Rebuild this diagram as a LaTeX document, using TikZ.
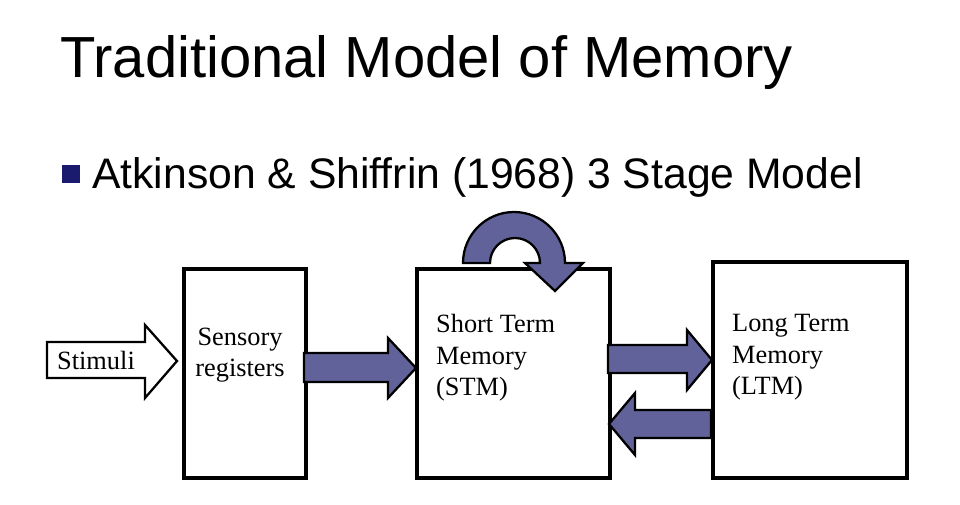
\documentclass[tikz,border=0pt]{standalone}
\usepackage{fontspec}
\setmainfont{Liberation Serif}
\newfontfamily\slidefont{Liberation Sans}
\usetikzlibrary{positioning}
\definecolor{arrowfill}{HTML}{62629A}
\definecolor{bulletblue}{HTML}{1A1A6E}
\tikzset{
  stage/.style={draw,line width=2pt,anchor=north west,inner sep=0pt},
  label/.style={font=\fontsize{15}{18}\selectfont,align=left},
  fat/.style={draw,line width=1.3pt,fill=arrowfill,line join=miter}
}
\begin{document}
\begin{tikzpicture}[x=0.02cm,y=-0.02cm]
  \useasboundingbox (0,0) rectangle (960,504);
  \node[anchor=base west,font=\slidefont\fontsize{33}{38}\selectfont] (Title) at (54,77) {Traditional Model of Memory};
  \node[fill=bulletblue,minimum size=10pt,inner sep=0pt] (Bullet) at (71,174) {};
  \node[anchor=base west,font=\slidefont\fontsize{24.3}{29}\selectfont] (Sub) at (86,188) {Atkinson \& Shiffrin (1968) 3 Stage Model};
  % the three stages
  \node[stage,minimum width=122*0.02cm,minimum height=209*0.02cm] (Sens) at (182,267) {};
  \node[stage,minimum width=193*0.02cm,minimum height=209*0.02cm] (STM) at (415,267) {};
  \node[stage,minimum width=194*0.02cm,minimum height=216*0.02cm] (LTM) at (711,260) {};
  \node[label,align=center] (SensText) at (240,355) {Sensory\\registers};
  \node[label,anchor=north west] (STMText) at (430,308) {Short Term\\Memory\\(STM)};
  \node[label,anchor=north west] (LTMText) at (726,308) {Long Term\\Memory\\(LTM)};
  % block arrows
  \draw[fat,fill=white] (47,342) -- (145,342) -- (145,325) -- (177,361) -- (145,398)
    -- (145,378) -- (47,378) -- cycle;
  \node[label] (StimText) at (96,360) {Stimuli};
  \draw[fat] (304,353) -- (388,353) -- (388,338) -- (416,368) -- (388,398)
    -- (388,382) -- (304,382) -- cycle;
  \draw[fat] (608,345) -- (687,345) -- (687,330) -- (712,360) -- (687,390)
    -- (687,373) -- (608,373) -- cycle;
  \draw[fat] (711,410) -- (635,410) -- (635,393) -- (609,424) -- (635,455)
    -- (635,438) -- (711,438) -- cycle;
  % rehearsal loop
  \draw[fat] (463,263) arc[start angle=180,end angle=360,radius=51]
    -- (583,263) -- (555,291) -- (525,263) -- (540,263)
    arc[start angle=360,end angle=180,radius=25] -- cycle;
\end{tikzpicture}
\end{document}
